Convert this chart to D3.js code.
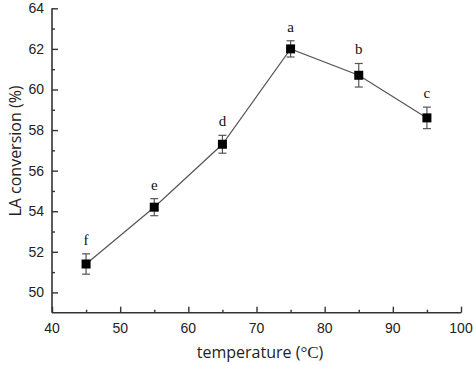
<!DOCTYPE html>
<html>
<head>
<meta charset="utf-8">
<script src="https://cdn.jsdelivr.net/npm/d3@7"></script>
<style>
  body { margin: 0; background: #fff; }
  svg { display: block; }
</style>
</head>
<body>
<script>
// data
var temps = [45, 55, 65, 75, 85, 95];
var conversion = [51.4, 54.2, 57.3, 62.0, 60.7, 58.6];
var errs = [0.5, 0.42, 0.44, 0.4, 0.58, 0.53];
var letters = ["f", "e", "d", "a", "b", "c"];
var xTicks = [40, 50, 60, 70, 80, 90, 100];
var yTicks = [50, 52, 54, 56, 58, 60, 62, 64];

var w = 474, h = 365;
var pLeft = 52, pRight = 461, pTop = 8.3, pBottom = 312.7;

var svg = d3.select("body").append("svg")
  .attr("width", w).attr("height", h);

var x = d3.scaleLinear().domain([40, 100]).range([pLeft, pRight]);
var y = d3.scaleLinear().domain([49, 64]).range([pBottom, pTop]);

var axisCol = "#333";

// x axis, ticks pointing inward
var xAxis = svg.append("g").attr("transform", "translate(0," + pBottom + ")")
  .call(d3.axisTop(x).tickValues(xTicks).tickSize(6).tickFormat(""));
xAxis.select(".domain").attr("d", "M" + pLeft + ",0H" + pRight);
var xMinor = svg.append("g").attr("transform", "translate(0," + pBottom + ")")
  .call(d3.axisTop(x).tickValues(d3.range(45, 100, 10)).tickSize(3).tickFormat(""));
xMinor.select(".domain").remove();

// y axis
var yAxis = svg.append("g").attr("transform", "translate(" + pLeft + ",0)")
  .call(d3.axisRight(y).tickValues(yTicks).tickSize(6).tickFormat(""));
yAxis.select(".domain").attr("d", "M0," + pTop + "V" + pBottom);
var yMinor = svg.append("g").attr("transform", "translate(" + pLeft + ",0)")
  .call(d3.axisRight(y).tickValues(d3.range(51, 64, 2)).tickSize(3).tickFormat(""));
yMinor.select(".domain").remove();

svg.selectAll(".domain").attr("stroke", axisCol).attr("stroke-width", 1.6);
svg.selectAll(".tick line").attr("stroke", axisCol).attr("stroke-width", 1.4);

// tick labels
svg.selectAll(".xlab").data(xTicks).enter().append("text")
  .attr("x", function(d){ return x(d); })
  .attr("y", pBottom + 20)
  .attr("text-anchor", "middle")
  .style("font-family", "Liberation Sans, Arial, sans-serif")
  .style("font-size", "14px").attr("fill", "#222")
  .text(function(d){ return d; });

svg.selectAll(".ylab").data(yTicks).enter().append("text")
  .attr("x", pLeft - 8)
  .attr("y", function(d){ return y(d) + 5; })
  .attr("text-anchor", "end")
  .style("font-family", "Liberation Sans, Arial, sans-serif")
  .style("font-size", "14px").attr("fill", "#222")
  .text(function(d){ return d; });

// axis titles
var xt = svg.append("text")
  .attr("x", 260).attr("y", 358)
  .attr("text-anchor", "middle")
  .style("font-family", "Open Sans, sans-serif")
  .style("font-size", "16px").attr("fill", "#222");
xt.append("tspan").text("temperature (");
xt.append("tspan").style("font-family", "Liberation Serif, Times New Roman, serif").style("font-size", "17px").text("\u00B0C");
xt.append("tspan").text(")");

svg.append("text")
  .attr("transform", "translate(21,151) rotate(-90)")
  .attr("text-anchor", "middle")
  .style("font-family", "Open Sans, sans-serif")
  .style("font-size", "16px").attr("fill", "#222")
  .text("LA conversion (%)");

var pts = temps.map(function(t, i){ return {t: t, v: conversion[i], e: errs[i], l: letters[i]}; });

// line
svg.append("path").datum(pts)
  .attr("d", d3.line().x(function(d){ return x(d.t); }).y(function(d){ return y(d.v); }))
  .attr("fill", "none").attr("stroke", "#555").attr("stroke-width", 1.2);

// error bars
var eg = svg.selectAll(".err").data(pts).enter().append("g").attr("class", "err");
eg.append("line")
  .attr("x1", function(d){ return x(d.t); }).attr("x2", function(d){ return x(d.t); })
  .attr("y1", function(d){ return y(d.v + d.e); }).attr("y2", function(d){ return y(d.v - d.e); });
eg.append("line")
  .attr("x1", function(d){ return x(d.t) - 4; }).attr("x2", function(d){ return x(d.t) + 4; })
  .attr("y1", function(d){ return y(d.v + d.e); }).attr("y2", function(d){ return y(d.v + d.e); });
eg.append("line")
  .attr("x1", function(d){ return x(d.t) - 4; }).attr("x2", function(d){ return x(d.t) + 4; })
  .attr("y1", function(d){ return y(d.v - d.e); }).attr("y2", function(d){ return y(d.v - d.e); });
eg.selectAll("line").attr("stroke", "#555").attr("stroke-width", 1.2);

// markers
svg.selectAll(".pt").data(pts).enter().append("rect")
  .attr("x", function(d){ return x(d.t) - 4.5; })
  .attr("y", function(d){ return y(d.v) - 4.5; })
  .attr("width", 9).attr("height", 9)
  .attr("fill", "#000");

// significance letters
svg.selectAll(".sig").data(pts).enter().append("text")
  .attr("x", function(d){ return x(d.t); })
  .attr("y", function(d){ return y(d.v + d.e) - 9; })
  .attr("text-anchor", "middle")
  .style("font-family", "Liberation Serif, Times New Roman, serif")
  .style("font-size", "15px").attr("fill", "#111")
  .text(function(d){ return d.l; });
</script>
</body>
</html>
